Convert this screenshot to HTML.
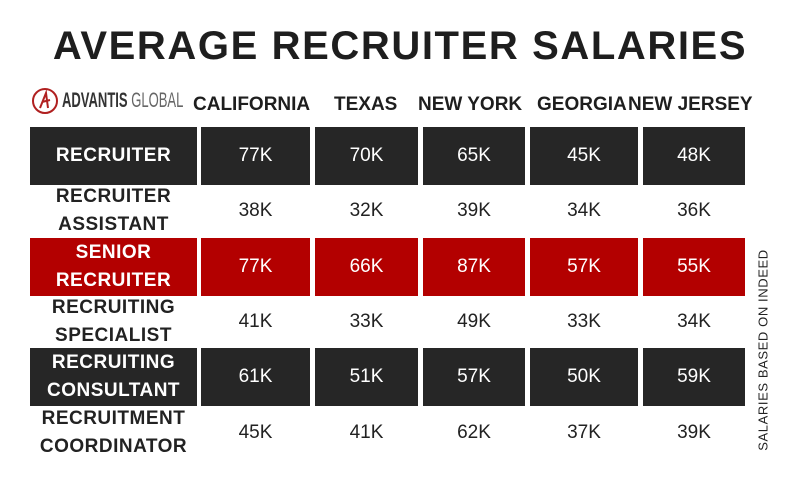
<!DOCTYPE html>
<html><head><style>
body{margin:0;width:800px;height:500px;background:#fff;overflow:hidden;position:relative;font-family:"Liberation Sans",Arial,sans-serif;color:#222}
.a{position:absolute}
.t{left:0;width:800px;top:24px;text-align:center;font-weight:bold;font-size:40px;letter-spacing:1.6px;color:#1e1e1e}
.h{top:94px;font-weight:bold;font-size:19px;white-space:nowrap;color:#1e1e1e}
.b{display:flex;align-items:center;justify-content:center;font-size:19px;height:58px}
.d{background:#262626;color:#fff}
.r{background:#b30000;color:#fff}
.lab{font-weight:bold;font-size:19px;text-align:center;line-height:28px;letter-spacing:0.5px}
</style></head><body>
<div class="a t">AVERAGE RECRUITER SALARIES</div>
<svg class="a" style="left:31px;top:87px" width="28" height="28"><circle cx="14" cy="14" r="12" fill="none" stroke="#b02020" stroke-width="2"/><path d="M9 21 L15 6 L17 21 M11 15 L19 13" stroke="#b02020" stroke-width="2" fill="none"/></svg>
<div class="a" style="left:62px;top:89px;font-size:21px;font-weight:bold;transform:scaleX(0.62);transform-origin:left;white-space:nowrap;color:#333">ADVANTIS <span style="font-weight:normal;color:#666">GLOBAL</span></div>
<div class="a h" style="left:193px">CALIFORNIA</div>
<div class="a h" style="left:334px">TEXAS</div>
<div class="a h" style="left:418px">NEW YORK</div>
<div class="a h" style="left:537px">GEORGIA</div>
<div class="a h" style="left:628px">NEW JERSEY</div>
<div id="g"></div>
<div class="a" style="left:763px;top:350px;transform:translate(-50%,-50%) rotate(-90deg);font-size:13px;white-space:nowrap;letter-spacing:0.6px;color:#222">SALARIES BASED ON INDEED</div>
<script>
var cols=[[30,167],[201,109],[315,103],[423,102],[530,108],[643,102]];
var rows=[["RECRUITER",["77K","70K","65K","45K","48K"],"d"],
["RECRUITER<br>ASSISTANT",["38K","32K","39K","34K","36K"],""],
["SENIOR<br>RECRUITER",["77K","66K","87K","57K","55K"],"r"],
["RECRUITING<br>SPECIALIST",["41K","33K","49K","33K","34K"],""],
["RECRUITING<br>CONSULTANT",["61K","51K","57K","50K","59K"],"d"],
["RECRUITMENT<br>COORDINATOR",["45K","41K","62K","37K","39K"],""]];
var h="";
rows.forEach(function(r,i){var y=127+i*55.3;
 for(var c=0;c<6;c++){var txt=c==0?'<div class="lab">'+r[0]+'</div>':r[1][c-1];
 h+='<div class="a b '+r[2]+'" style="left:'+cols[c][0]+'px;top:'+y+'px;width:'+cols[c][1]+'px">'+txt+'</div>';}
});
document.getElementById("g").innerHTML=h;
</script>
</body></html>
